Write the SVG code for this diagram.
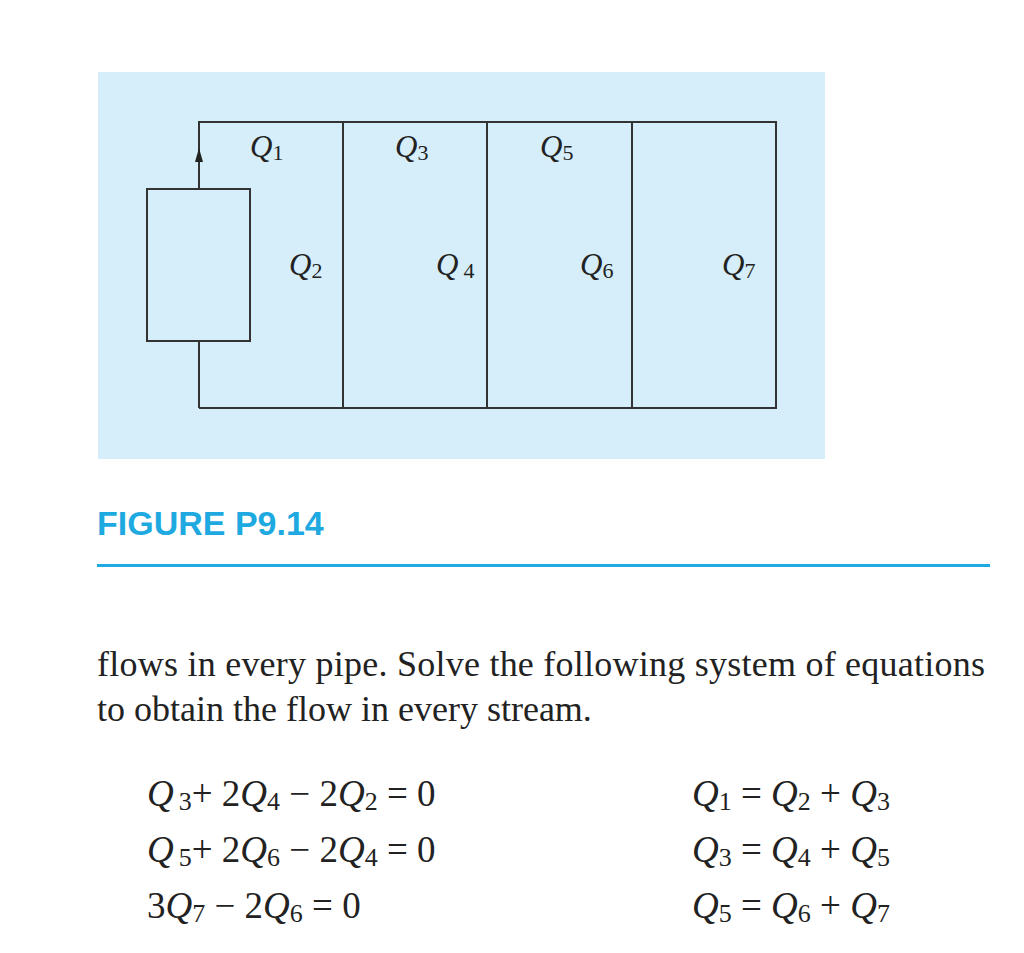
<svg xmlns="http://www.w3.org/2000/svg" width="1024" height="953" viewBox="0 0 1024 953">
<style>
.w{stroke:#333;stroke-width:2;fill:none}
.q{font-family:"Liberation Serif",serif;font-size:31px;fill:#222}
.e{font-family:"Liberation Serif",serif;font-size:37px;fill:#222}
.b{font-family:"Liberation Serif",serif;font-size:36px;fill:#222}
.i{font-style:italic}
</style>
<rect x="98" y="72" width="727" height="387" fill="#d6eef9"/>
<g id="pipes">
<path class="w" d="M199,408 V341 M199,189 V122 H776 V408 H199 M343,122 V408 M487,122 V408 M632,122 V408"/>
<path class="w" d="M199,189 V160"/>
<path d="M195,162 L199,148 L203,162 Z" fill="#222"/>
</g>
<g id="pump"><rect class="w" x="147" y="189" width="103" height="152"/></g>
<g id="labels" class="q">
<text x="250" y="157"><tspan class="i">Q</tspan><tspan font-size="22" dy="3">1</tspan></text>
<text x="395" y="157"><tspan class="i">Q</tspan><tspan font-size="22" dy="3">3</tspan></text>
<text x="540" y="157"><tspan class="i">Q</tspan><tspan font-size="22" dy="3">5</tspan></text>
<text x="289" y="275"><tspan class="i">Q</tspan><tspan font-size="22" dy="3">2</tspan></text>
<text x="436" y="275"><tspan class="i">Q</tspan><tspan font-size="22" dx="5" dy="3">4</tspan></text>
<text x="580" y="275"><tspan class="i">Q</tspan><tspan font-size="22" dy="3">6</tspan></text>
<text x="722" y="275"><tspan class="i">Q</tspan><tspan font-size="22" dy="3">7</tspan></text>
</g>
<text x="97" y="535" font-family="Liberation Sans,sans-serif" font-weight="bold" font-size="34" fill="#1fa9e1">FIGURE P9.14</text>
<rect x="97" y="564" width="893" height="3" fill="#1fa9e1"/>
<text class="b" x="97" y="676" textLength="888">flows in every pipe. Solve the following system of equations</text>
<text class="b" x="97" y="721">to obtain the flow in every stream.</text>
<g class="e">
<text x="147" y="806"><tspan class="i">Q</tspan><tspan font-size="26" dx="5" dy="4">3</tspan><tspan dy="-4">+ 2</tspan><tspan class="i">Q</tspan><tspan font-size="26" dy="4">4</tspan><tspan dy="-4"> − 2</tspan><tspan class="i">Q</tspan><tspan font-size="26" dy="4">2</tspan><tspan dy="-4"> = 0</tspan></text>
<text x="147" y="862"><tspan class="i">Q</tspan><tspan font-size="26" dx="5" dy="4">5</tspan><tspan dy="-4">+ 2</tspan><tspan class="i">Q</tspan><tspan font-size="26" dy="4">6</tspan><tspan dy="-4"> − 2</tspan><tspan class="i">Q</tspan><tspan font-size="26" dy="4">4</tspan><tspan dy="-4"> = 0</tspan></text>
<text x="147" y="918">3<tspan class="i">Q</tspan><tspan font-size="26" dy="4">7</tspan><tspan dy="-4"> − 2</tspan><tspan class="i">Q</tspan><tspan font-size="26" dy="4">6</tspan><tspan dy="-4"> = 0</tspan></text>
<text x="692" y="806"><tspan class="i">Q</tspan><tspan font-size="26" dy="4">1</tspan><tspan dy="-4"> = </tspan><tspan class="i">Q</tspan><tspan font-size="26" dy="4">2</tspan><tspan dy="-4"> + </tspan><tspan class="i">Q</tspan><tspan font-size="26" dy="4">3</tspan></text>
<text x="692" y="862"><tspan class="i">Q</tspan><tspan font-size="26" dy="4">3</tspan><tspan dy="-4"> = </tspan><tspan class="i">Q</tspan><tspan font-size="26" dy="4">4</tspan><tspan dy="-4"> + </tspan><tspan class="i">Q</tspan><tspan font-size="26" dy="4">5</tspan></text>
<text x="692" y="918"><tspan class="i">Q</tspan><tspan font-size="26" dy="4">5</tspan><tspan dy="-4"> = </tspan><tspan class="i">Q</tspan><tspan font-size="26" dy="4">6</tspan><tspan dy="-4"> + </tspan><tspan class="i">Q</tspan><tspan font-size="26" dy="4">7</tspan></text>
</g>
</svg>
